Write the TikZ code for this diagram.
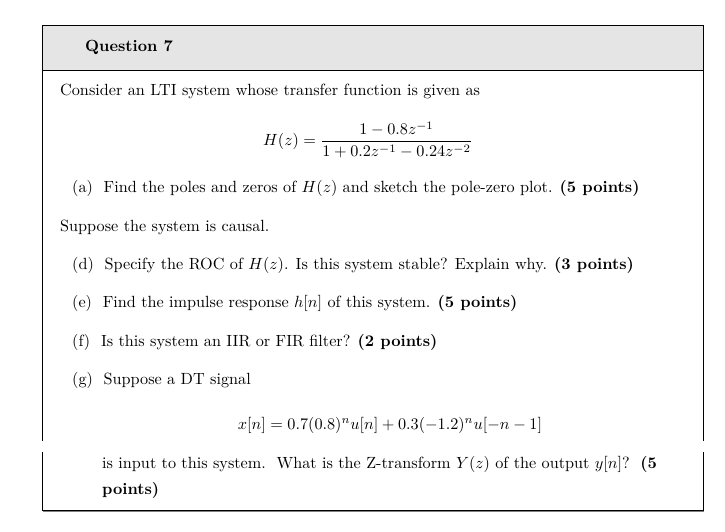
\documentclass[tikz,border=0pt]{standalone}
\usepackage{amsmath}
\usepackage{graphicx}
\newcommand{\bigtxt}[1]{\scalebox{1.62}{#1}}
\begin{document}
\begin{tikzpicture}[x=1pt,y=-1pt,
  txt/.style={anchor=west,inner sep=0pt,font=\normalsize},
  eq/.style={inner sep=0pt,font=\normalsize}]
\useasboundingbox (0,0) rectangle (725,531);
\fill[gray!20] (42,25) rectangle (703,70);
\draw[line width=1pt] (42,25) -- (703,25);
\draw[line width=1pt] (42,70) -- (703,70);
\draw[line width=1pt] (42,25) -- (42,441);
\draw[line width=1pt] (703,25) -- (703,441);
\draw[line width=1pt] (42,452) -- (42,510) -- (703,510) -- (703,452);
\draw[line width=0.6pt,gray] (43,511.5) -- (704,511.5);
\node[txt] (q) at (85,47) {\bigtxt{\bfseries Question 7}};
\node[txt] (c) at (60,91) {\bigtxt{Consider an LTI system whose transfer function is given as}};
\node[eq] (h) at (368,140) {\bigtxt{$H(z)=\dfrac{1-0.8z^{-1}}{1+0.2z^{-1}-0.24z^{-2}}$}};
\node[txt] (a) at (72,188) {\bigtxt{(a)\ \ Find the poles and zeros of $H(z)$ and sketch the pole-zero plot. \textbf{(5 points)}}};
\node[txt] (s) at (60,227) {\bigtxt{Suppose the system is causal.}};
\node[txt] (d) at (72,265) {\bigtxt{(d)\ \ Specify the ROC of $H(z)$. Is this system stable? Explain why. \textbf{(3 points)}}};
\node[txt] (e) at (72,303) {\bigtxt{(e)\ \ Find the impulse response $h[n]$ of this system. \textbf{(5 points)}}};
\node[txt] (f) at (72,342) {\bigtxt{(f)\ \ Is this system an IIR or FIR filter? \textbf{(2 points)}}};
\node[txt] (g) at (72,380) {\bigtxt{(g)\ \ Suppose a DT signal}};
\node[eq] (x) at (390,425) {\bigtxt{$x[n]=0.7(0.8)^nu[n]+0.3(-1.2)^nu[-n-1]$}};
\node[txt] (i1) at (102,464) {\bigtxt{is input to this system.\ \ What is the Z-transform $Y(z)$ of the output $y[n]$?\ \ \textbf{(5}}};
\node[txt] (i2) at (102,490) {\bigtxt{\textbf{points)}}};
\end{tikzpicture}
\end{document}
